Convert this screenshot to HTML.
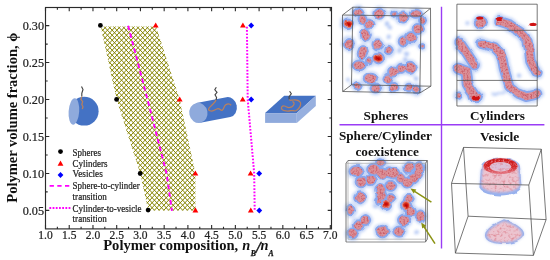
<!DOCTYPE html>
<html><head><meta charset="utf-8"><style>
html,body{margin:0;padding:0;background:#fff;width:550px;height:260px;overflow:hidden}
svg{display:block}
</style></head><body>
<svg width="550" height="260" viewBox="0 0 550 260">
<clipPath id="hc"><polygon points="100.7,26.6 156.1,26.6 179.7,99.4 195.4,173.5 195.4,210.4 148.2,210.4 140.2,173.5 116.6,99.4"/></clipPath>
<g clip-path="url(#hc)"><path d="M-376.84,0 L-151.24,240 M-371.76,0 L-597.36,240 M-372.14,0 L-146.54,240 M-367.06,0 L-592.66,240 M-367.44,0 L-141.84,240 M-362.36,0 L-587.96,240 M-362.74,0 L-137.14,240 M-357.66,0 L-583.26,240 M-358.04,0 L-132.44,240 M-352.96,0 L-578.56,240 M-353.34,0 L-127.74,240 M-348.26,0 L-573.86,240 M-348.64,0 L-123.04,240 M-343.56,0 L-569.16,240 M-343.94,0 L-118.34,240 M-338.86,0 L-564.46,240 M-339.24,0 L-113.64,240 M-334.16,0 L-559.76,240 M-334.54,0 L-108.94,240 M-329.46,0 L-555.06,240 M-329.84,0 L-104.24,240 M-324.76,0 L-550.36,240 M-325.14,0 L-99.54,240 M-320.06,0 L-545.66,240 M-320.44,0 L-94.84,240 M-315.36,0 L-540.96,240 M-315.74,0 L-90.14,240 M-310.66,0 L-536.26,240 M-311.04,0 L-85.44,240 M-305.96,0 L-531.56,240 M-306.34,0 L-80.74,240 M-301.26,0 L-526.86,240 M-301.64,0 L-76.04,240 M-296.56,0 L-522.16,240 M-296.94,0 L-71.34,240 M-291.86,0 L-517.46,240 M-292.24,0 L-66.64,240 M-287.16,0 L-512.76,240 M-287.54,0 L-61.94,240 M-282.46,0 L-508.06,240 M-282.84,0 L-57.24,240 M-277.76,0 L-503.36,240 M-278.14,0 L-52.54,240 M-273.06,0 L-498.66,240 M-273.44,0 L-47.84,240 M-268.36,0 L-493.96,240 M-268.74,0 L-43.14,240 M-263.66,0 L-489.26,240 M-264.04,0 L-38.44,240 M-258.96,0 L-484.56,240 M-259.34,0 L-33.74,240 M-254.26,0 L-479.86,240 M-254.64,0 L-29.04,240 M-249.56,0 L-475.16,240 M-249.94,0 L-24.34,240 M-244.86,0 L-470.46,240 M-245.24,0 L-19.64,240 M-240.16,0 L-465.76,240 M-240.54,0 L-14.94,240 M-235.46,0 L-461.06,240 M-235.84,0 L-10.24,240 M-230.76,0 L-456.36,240 M-231.14,0 L-5.54,240 M-226.06,0 L-451.66,240 M-226.44,0 L-0.84,240 M-221.36,0 L-446.96,240 M-221.74,0 L3.86,240 M-216.66,0 L-442.26,240 M-217.04,0 L8.56,240 M-211.96,0 L-437.56,240 M-212.34,0 L13.26,240 M-207.26,0 L-432.86,240 M-207.64,0 L17.96,240 M-202.56,0 L-428.16,240 M-202.94,0 L22.66,240 M-197.86,0 L-423.46,240 M-198.24,0 L27.36,240 M-193.16,0 L-418.76,240 M-193.54,0 L32.06,240 M-188.46,0 L-414.06,240 M-188.84,0 L36.76,240 M-183.76,0 L-409.36,240 M-184.14,0 L41.46,240 M-179.06,0 L-404.66,240 M-179.44,0 L46.16,240 M-174.36,0 L-399.96,240 M-174.74,0 L50.86,240 M-169.66,0 L-395.26,240 M-170.04,0 L55.56,240 M-164.96,0 L-390.56,240 M-165.34,0 L60.26,240 M-160.26,0 L-385.86,240 M-160.64,0 L64.96,240 M-155.56,0 L-381.16,240 M-155.94,0 L69.66,240 M-150.86,0 L-376.46,240 M-151.24,0 L74.36,240 M-146.16,0 L-371.76,240 M-146.54,0 L79.06,240 M-141.46,0 L-367.06,240 M-141.84,0 L83.76,240 M-136.76,0 L-362.36,240 M-137.14,0 L88.46,240 M-132.06,0 L-357.66,240 M-132.44,0 L93.16,240 M-127.36,0 L-352.96,240 M-127.74,0 L97.86,240 M-122.66,0 L-348.26,240 M-123.04,0 L102.56,240 M-117.96,0 L-343.56,240 M-118.34,0 L107.26,240 M-113.26,0 L-338.86,240 M-113.64,0 L111.96,240 M-108.56,0 L-334.16,240 M-108.94,0 L116.66,240 M-103.86,0 L-329.46,240 M-104.24,0 L121.36,240 M-99.16,0 L-324.76,240 M-99.54,0 L126.06,240 M-94.46,0 L-320.06,240 M-94.84,0 L130.76,240 M-89.76,0 L-315.36,240 M-90.14,0 L135.46,240 M-85.06,0 L-310.66,240 M-85.44,0 L140.16,240 M-80.36,0 L-305.96,240 M-80.74,0 L144.86,240 M-75.66,0 L-301.26,240 M-76.04,0 L149.56,240 M-70.96,0 L-296.56,240 M-71.34,0 L154.26,240 M-66.26,0 L-291.86,240 M-66.64,0 L158.96,240 M-61.56,0 L-287.16,240 M-61.94,0 L163.66,240 M-56.86,0 L-282.46,240 M-57.24,0 L168.36,240 M-52.16,0 L-277.76,240 M-52.54,0 L173.06,240 M-47.46,0 L-273.06,240 M-47.84,0 L177.76,240 M-42.76,0 L-268.36,240 M-43.14,0 L182.46,240 M-38.06,0 L-263.66,240 M-38.44,0 L187.16,240 M-33.36,0 L-258.96,240 M-33.74,0 L191.86,240 M-28.66,0 L-254.26,240 M-29.04,0 L196.56,240 M-23.96,0 L-249.56,240 M-24.34,0 L201.26,240 M-19.26,0 L-244.86,240 M-19.64,0 L205.96,240 M-14.56,0 L-240.16,240 M-14.94,0 L210.66,240 M-9.86,0 L-235.46,240 M-10.24,0 L215.36,240 M-5.16,0 L-230.76,240 M-5.54,0 L220.06,240 M-0.46,0 L-226.06,240 M-0.84,0 L224.76,240 M4.24,0 L-221.36,240 M3.86,0 L229.46,240 M8.94,0 L-216.66,240 M8.56,0 L234.16,240 M13.64,0 L-211.96,240 M13.26,0 L238.86,240 M18.34,0 L-207.26,240 M17.96,0 L243.56,240 M23.04,0 L-202.56,240 M22.66,0 L248.26,240 M27.74,0 L-197.86,240 M27.36,0 L252.96,240 M32.44,0 L-193.16,240 M32.06,0 L257.66,240 M37.14,0 L-188.46,240 M36.76,0 L262.36,240 M41.84,0 L-183.76,240 M41.46,0 L267.06,240 M46.54,0 L-179.06,240 M46.16,0 L271.76,240 M51.24,0 L-174.36,240 M50.86,0 L276.46,240 M55.94,0 L-169.66,240 M55.56,0 L281.16,240 M60.64,0 L-164.96,240 M60.26,0 L285.86,240 M65.34,0 L-160.26,240 M64.96,0 L290.56,240 M70.04,0 L-155.56,240 M69.66,0 L295.26,240 M74.74,0 L-150.86,240 M74.36,0 L299.96,240 M79.44,0 L-146.16,240 M79.06,0 L304.66,240 M84.14,0 L-141.46,240 M83.76,0 L309.36,240 M88.84,0 L-136.76,240 M88.46,0 L314.06,240 M93.54,0 L-132.06,240 M93.16,0 L318.76,240 M98.24,0 L-127.36,240 M97.86,0 L323.46,240 M102.94,0 L-122.66,240 M102.56,0 L328.16,240 M107.64,0 L-117.96,240 M107.26,0 L332.86,240 M112.34,0 L-113.26,240 M111.96,0 L337.56,240 M117.04,0 L-108.56,240 M116.66,0 L342.26,240 M121.74,0 L-103.86,240 M121.36,0 L346.96,240 M126.44,0 L-99.16,240 M126.06,0 L351.66,240 M131.14,0 L-94.46,240 M130.76,0 L356.36,240 M135.84,0 L-89.76,240 M135.46,0 L361.06,240 M140.54,0 L-85.06,240 M140.16,0 L365.76,240 M145.24,0 L-80.36,240 M144.86,0 L370.46,240 M149.94,0 L-75.66,240 M149.56,0 L375.16,240 M154.64,0 L-70.96,240 M154.26,0 L379.86,240 M159.34,0 L-66.26,240 M158.96,0 L384.56,240 M164.04,0 L-61.56,240 M163.66,0 L389.26,240 M168.74,0 L-56.86,240 M168.36,0 L393.96,240 M173.44,0 L-52.16,240 M173.06,0 L398.66,240 M178.14,0 L-47.46,240 M177.76,0 L403.36,240 M182.84,0 L-42.76,240 M182.46,0 L408.06,240 M187.54,0 L-38.06,240 M187.16,0 L412.76,240 M192.24,0 L-33.36,240 M191.86,0 L417.46,240 M196.94,0 L-28.66,240 M196.56,0 L422.16,240 M201.64,0 L-23.96,240 M201.26,0 L426.86,240 M206.34,0 L-19.26,240 M205.96,0 L431.56,240 M211.04,0 L-14.56,240 M210.66,0 L436.26,240 M215.74,0 L-9.86,240 M215.36,0 L440.96,240 M220.44,0 L-5.16,240 M220.06,0 L445.66,240 M225.14,0 L-0.46,240 M224.76,0 L450.36,240 M229.84,0 L4.24,240 M229.46,0 L455.06,240 M234.54,0 L8.94,240 M234.16,0 L459.76,240 M239.24,0 L13.64,240 M238.86,0 L464.46,240 M243.94,0 L18.34,240 M243.56,0 L469.16,240 M248.64,0 L23.04,240 M248.26,0 L473.86,240 M253.34,0 L27.74,240 M252.96,0 L478.56,240 M258.04,0 L32.44,240 M257.66,0 L483.26,240 M262.74,0 L37.14,240 M262.36,0 L487.96,240 M267.44,0 L41.84,240 M267.06,0 L492.66,240 M272.14,0 L46.54,240 M271.76,0 L497.36,240 M276.84,0 L51.24,240 M276.46,0 L502.06,240 M281.54,0 L55.94,240 M281.16,0 L506.76,240 M286.24,0 L60.64,240 M285.86,0 L511.46,240 M290.94,0 L65.34,240 M290.56,0 L516.16,240 M295.64,0 L70.04,240 M295.26,0 L520.86,240 M300.34,0 L74.74,240 M299.96,0 L525.56,240 M305.04,0 L79.44,240 M304.66,0 L530.26,240 M309.74,0 L84.14,240 M309.36,0 L534.96,240 M314.44,0 L88.84,240 M314.06,0 L539.66,240 M319.14,0 L93.54,240 M318.76,0 L544.36,240 M323.84,0 L98.24,240 M323.46,0 L549.06,240 M328.54,0 L102.94,240 M328.16,0 L553.76,240 M333.24,0 L107.64,240 M332.86,0 L558.46,240 M337.94,0 L112.34,240 M337.56,0 L563.16,240 M342.64,0 L117.04,240 M342.26,0 L567.86,240 M347.34,0 L121.74,240 M346.96,0 L572.56,240 M352.04,0 L126.44,240 M351.66,0 L577.26,240 M356.74,0 L131.14,240 M356.36,0 L581.96,240 M361.44,0 L135.84,240 M361.06,0 L586.66,240 M366.14,0 L140.54,240 M365.76,0 L591.36,240 M370.84,0 L145.24,240 M370.46,0 L596.06,240 M375.54,0 L149.94,240 M375.16,0 L600.76,240 M380.24,0 L154.64,240 M379.86,0 L605.46,240 M384.94,0 L159.34,240 M384.56,0 L610.16,240 M389.64,0 L164.04,240 M389.26,0 L614.86,240 M394.34,0 L168.74,240 M393.96,0 L619.56,240 M399.04,0 L173.44,240 M398.66,0 L624.26,240 M403.74,0 L178.14,240 M403.36,0 L628.96,240 M408.44,0 L182.84,240 M408.06,0 L633.66,240 M413.14,0 L187.54,240 M412.76,0 L638.36,240 M417.84,0 L192.24,240 M417.46,0 L643.06,240 M422.54,0 L196.94,240 M422.16,0 L647.76,240 M427.24,0 L201.64,240 M426.86,0 L652.46,240 M431.94,0 L206.34,240 M431.56,0 L657.16,240 M436.64,0 L211.04,240 M436.26,0 L661.86,240 M441.34,0 L215.74,240 M440.96,0 L666.56,240 M446.04,0 L220.44,240 M445.66,0 L671.26,240 M450.74,0 L225.14,240 M450.36,0 L675.96,240 M455.44,0 L229.84,240 M455.06,0 L680.66,240 M460.14,0 L234.54,240 M459.76,0 L685.36,240 M464.84,0 L239.24,240 M464.46,0 L690.06,240 M469.54,0 L243.94,240 M469.16,0 L694.76,240 M474.24,0 L248.64,240 M473.86,0 L699.46,240 M478.94,0 L253.34,240 M478.56,0 L704.16,240 M483.64,0 L258.04,240 M483.26,0 L708.86,240 M488.34,0 L262.74,240 M487.96,0 L713.56,240 M493.04,0 L267.44,240 M492.66,0 L718.26,240 M497.74,0 L272.14,240 M497.36,0 L722.96,240 M502.44,0 L276.84,240 M502.06,0 L727.66,240 M507.14,0 L281.54,240 M506.76,0 L732.36,240 M511.84,0 L286.24,240 M511.46,0 L737.06,240 M516.54,0 L290.94,240 M516.16,0 L741.76,240 M521.24,0 L295.64,240 M520.86,0 L746.46,240 M525.94,0 L300.34,240 M525.56,0 L751.16,240 M530.64,0 L305.04,240 M530.26,0 L755.86,240 M535.34,0 L309.74,240 M534.96,0 L760.56,240 M540.04,0 L314.44,240 M539.66,0 L765.26,240 M544.74,0 L319.14,240 M544.36,0 L769.96,240 M549.44,0 L323.84,240 M549.06,0 L774.66,240 M554.14,0 L328.54,240 M553.76,0 L779.36,240 M558.84,0 L333.24,240 M558.46,0 L784.06,240 M563.54,0 L337.94,240" stroke="#858300" stroke-width="1.0" fill="none"/></g>
<polyline points="128.1,25.8 147.5,99.4 166.6,173.5 171.9,210.8" fill="none" stroke="#ff00ff" stroke-width="1.9" stroke-dasharray="4.6 3.2"/>
<polyline points="246.9,26.8 247.7,99.4 254.2,173.5 254.7,211.0" fill="none" stroke="#ff00ff" stroke-width="2" stroke-dasharray="1.7 1.6"/>
<rect x="45.5" y="7.5" width="286.0" height="221.4" fill="none" stroke="#2a2a2a" stroke-width="1.15"/>
<path d="M45.50,228.90 v-3.8 M45.50,7.50 v3.8 M57.37,228.90 v-2.2 M57.37,7.50 v2.2 M69.23,228.90 v-3.8 M69.23,7.50 v3.8 M81.10,228.90 v-2.2 M81.10,7.50 v2.2 M92.97,228.90 v-3.8 M92.97,7.50 v3.8 M104.83,228.90 v-2.2 M104.83,7.50 v2.2 M116.70,228.90 v-3.8 M116.70,7.50 v3.8 M128.57,228.90 v-2.2 M128.57,7.50 v2.2 M140.43,228.90 v-3.8 M140.43,7.50 v3.8 M152.30,228.90 v-2.2 M152.30,7.50 v2.2 M164.17,228.90 v-3.8 M164.17,7.50 v3.8 M176.03,228.90 v-2.2 M176.03,7.50 v2.2 M187.90,228.90 v-3.8 M187.90,7.50 v3.8 M199.77,228.90 v-2.2 M199.77,7.50 v2.2 M211.63,228.90 v-3.8 M211.63,7.50 v3.8 M223.50,228.90 v-2.2 M223.50,7.50 v2.2 M235.37,228.90 v-3.8 M235.37,7.50 v3.8 M247.23,228.90 v-2.2 M247.23,7.50 v2.2 M259.10,228.90 v-3.8 M259.10,7.50 v3.8 M270.97,228.90 v-2.2 M270.97,7.50 v2.2 M282.83,228.90 v-3.8 M282.83,7.50 v3.8 M294.70,228.90 v-2.2 M294.70,7.50 v2.2 M306.57,228.90 v-3.8 M306.57,7.50 v3.8 M318.43,228.90 v-2.2 M318.43,7.50 v2.2 M330.30,228.90 v-3.8 M330.30,7.50 v3.8 M45.50,210.40 h3.8 M331.50,210.40 h-3.8 M45.50,191.92 h2.2 M331.50,191.92 h-2.2 M45.50,173.44 h3.8 M331.50,173.44 h-3.8 M45.50,154.96 h2.2 M331.50,154.96 h-2.2 M45.50,136.48 h3.8 M331.50,136.48 h-3.8 M45.50,118.00 h2.2 M331.50,118.00 h-2.2 M45.50,99.52 h3.8 M331.50,99.52 h-3.8 M45.50,81.04 h2.2 M331.50,81.04 h-2.2 M45.50,62.56 h3.8 M331.50,62.56 h-3.8 M45.50,44.08 h2.2 M331.50,44.08 h-2.2 M45.50,25.60 h3.8 M331.50,25.60 h-3.8" stroke="#2a2a2a" stroke-width="1.1" fill="none"/>
<text x="45.50" y="238.80" font-size="11.5" stroke="#222" stroke-width="0.22" text-anchor="middle" fill="#222" style="font-family:'Liberation Serif','Times New Roman',serif">1.0</text>
<text x="69.23" y="238.80" font-size="11.5" stroke="#222" stroke-width="0.22" text-anchor="middle" fill="#222" style="font-family:'Liberation Serif','Times New Roman',serif">1.5</text>
<text x="92.97" y="238.80" font-size="11.5" stroke="#222" stroke-width="0.22" text-anchor="middle" fill="#222" style="font-family:'Liberation Serif','Times New Roman',serif">2.0</text>
<text x="116.70" y="238.80" font-size="11.5" stroke="#222" stroke-width="0.22" text-anchor="middle" fill="#222" style="font-family:'Liberation Serif','Times New Roman',serif">2.5</text>
<text x="140.43" y="238.80" font-size="11.5" stroke="#222" stroke-width="0.22" text-anchor="middle" fill="#222" style="font-family:'Liberation Serif','Times New Roman',serif">3.0</text>
<text x="164.17" y="238.80" font-size="11.5" stroke="#222" stroke-width="0.22" text-anchor="middle" fill="#222" style="font-family:'Liberation Serif','Times New Roman',serif">3.5</text>
<text x="187.90" y="238.80" font-size="11.5" stroke="#222" stroke-width="0.22" text-anchor="middle" fill="#222" style="font-family:'Liberation Serif','Times New Roman',serif">4.0</text>
<text x="211.63" y="238.80" font-size="11.5" stroke="#222" stroke-width="0.22" text-anchor="middle" fill="#222" style="font-family:'Liberation Serif','Times New Roman',serif">4.5</text>
<text x="235.37" y="238.80" font-size="11.5" stroke="#222" stroke-width="0.22" text-anchor="middle" fill="#222" style="font-family:'Liberation Serif','Times New Roman',serif">5.0</text>
<text x="259.10" y="238.80" font-size="11.5" stroke="#222" stroke-width="0.22" text-anchor="middle" fill="#222" style="font-family:'Liberation Serif','Times New Roman',serif">5.5</text>
<text x="282.83" y="238.80" font-size="11.5" stroke="#222" stroke-width="0.22" text-anchor="middle" fill="#222" style="font-family:'Liberation Serif','Times New Roman',serif">6.0</text>
<text x="306.57" y="238.80" font-size="11.5" stroke="#222" stroke-width="0.22" text-anchor="middle" fill="#222" style="font-family:'Liberation Serif','Times New Roman',serif">6.5</text>
<text x="330.30" y="238.80" font-size="11.5" stroke="#222" stroke-width="0.22" text-anchor="middle" fill="#222" style="font-family:'Liberation Serif','Times New Roman',serif">7.0</text>
<text x="44.00" y="214.65" font-size="12.2" stroke="#222" stroke-width="0.22" text-anchor="end" fill="#222" style="font-family:'Liberation Serif','Times New Roman',serif">0.05</text>
<text x="44.00" y="177.69" font-size="12.2" stroke="#222" stroke-width="0.22" text-anchor="end" fill="#222" style="font-family:'Liberation Serif','Times New Roman',serif">0.10</text>
<text x="44.00" y="140.73" font-size="12.2" stroke="#222" stroke-width="0.22" text-anchor="end" fill="#222" style="font-family:'Liberation Serif','Times New Roman',serif">0.15</text>
<text x="44.00" y="103.77" font-size="12.2" stroke="#222" stroke-width="0.22" text-anchor="end" fill="#222" style="font-family:'Liberation Serif','Times New Roman',serif">0.20</text>
<text x="44.00" y="66.81" font-size="12.2" stroke="#222" stroke-width="0.22" text-anchor="end" fill="#222" style="font-family:'Liberation Serif','Times New Roman',serif">0.25</text>
<text x="44.00" y="29.85" font-size="12.2" stroke="#222" stroke-width="0.22" text-anchor="end" fill="#222" style="font-family:'Liberation Serif','Times New Roman',serif">0.30</text>
<text x="103.20" y="250.30" font-size="14.4" font-weight="bold" textLength="135.00" lengthAdjust="spacingAndGlyphs" fill="#111" style="font-family:'Liberation Serif','Times New Roman',serif">Polymer composition,</text>
<text x="242.2" y="250.3" font-size="14.4" font-weight="bold" font-style="italic" fill="#111" style="font-family:'Liberation Serif','Times New Roman',serif">n</text>
<text x="250.8" y="256.2" font-size="7.7" font-weight="bold" font-style="italic" fill="#111" stroke="#111" stroke-width="0.25" style="font-family:'Liberation Serif','Times New Roman',serif">B</text>
<text x="256.0" y="252.8" font-size="16.5" font-weight="bold" font-style="italic" fill="#111" stroke="#111" stroke-width="0.35" style="font-family:'Liberation Serif','Times New Roman',serif">/</text>
<text x="260.6" y="250.3" font-size="14.4" font-weight="bold" font-style="italic" fill="#111" style="font-family:'Liberation Serif','Times New Roman',serif">n</text>
<text x="268.4" y="256.2" font-size="7.7" font-weight="bold" font-style="italic" fill="#111" stroke="#111" stroke-width="0.25" style="font-family:'Liberation Serif','Times New Roman',serif">A</text>
<g transform="translate(16.6,202.7) rotate(-90)"><text x="0.00" y="0.00" font-size="14.5" font-weight="bold" textLength="170.00" lengthAdjust="spacingAndGlyphs" fill="#111" style="font-family:'Liberation Serif','Times New Roman',serif">Polymer volume fraction, &#981;</text></g>
<circle cx="100.4" cy="25.4" r="2.4" fill="#000"/>
<circle cx="116.6" cy="99.4" r="2.4" fill="#000"/>
<circle cx="140.2" cy="173.5" r="2.4" fill="#000"/>
<circle cx="148.1" cy="210.1" r="2.4" fill="#000"/>
<polygon points="155.7,22.4 152.8,27.5 158.6,27.5" fill="#ff0000"/>
<polygon points="179.7,96.4 176.8,101.5 182.6,101.5" fill="#ff0000"/>
<polygon points="195.4,170.5 192.5,175.6 198.3,175.6" fill="#ff0000"/>
<polygon points="195.4,207.3 192.5,212.4 198.3,212.4" fill="#ff0000"/>
<polygon points="242.9,22.4 240.0,27.5 245.8,27.5" fill="#ff0000"/>
<polygon points="242.7,96.4 239.8,101.5 245.6,101.5" fill="#ff0000"/>
<polygon points="250.6,170.5 247.7,175.6 253.5,175.6" fill="#ff0000"/>
<polygon points="250.8,207.4 247.9,212.5 253.7,212.5" fill="#ff0000"/>
<polygon points="251.2,22.4 254.1,25.4 251.2,28.4 248.3,25.4" fill="#0000ff"/>
<polygon points="251.2,96.4 254.1,99.4 251.2,102.4 248.3,99.4" fill="#0000ff"/>
<polygon points="259.2,170.5 262.1,173.5 259.2,176.5 256.3,173.5" fill="#0000ff"/>
<polygon points="259.3,207.4 262.2,210.4 259.3,213.4 256.4,210.4" fill="#0000ff"/>
<circle cx="60.5" cy="151.6" r="2.4" fill="#000"/>
<polygon points="60.5,160.6 57.6,165.7 63.4,165.7" fill="#ff0000"/>
<polygon points="60.5,172.1 63.4,175.1 60.5,178.1 57.6,175.1" fill="#0000ff"/>
<line x1="49.6" y1="185.9" x2="69.4" y2="185.9" stroke="#ff00ff" stroke-width="1.9" stroke-dasharray="4.3 3.4"/>
<line x1="49.4" y1="207.9" x2="71.4" y2="207.9" stroke="#ff00ff" stroke-width="2" stroke-dasharray="1.8 1.4"/>
<text x="72.60" y="155.80" font-size="9.8" stroke="#222" stroke-width="0.22" textLength="28.30" lengthAdjust="spacingAndGlyphs" fill="#222" style="font-family:'Liberation Serif','Times New Roman',serif">Spheres</text>
<text x="72.60" y="166.50" font-size="9.8" stroke="#222" stroke-width="0.22" textLength="34.90" lengthAdjust="spacingAndGlyphs" fill="#222" style="font-family:'Liberation Serif','Times New Roman',serif">Cylinders</text>
<text x="72.60" y="177.30" font-size="9.8" stroke="#222" stroke-width="0.22" textLength="30.20" lengthAdjust="spacingAndGlyphs" fill="#222" style="font-family:'Liberation Serif','Times New Roman',serif">Vesicles</text>
<text x="72.60" y="189.20" font-size="9.8" stroke="#222" stroke-width="0.22" textLength="67.20" lengthAdjust="spacingAndGlyphs" fill="#222" style="font-family:'Liberation Serif','Times New Roman',serif">Sphere-to-cylinder</text>
<text x="72.60" y="199.80" font-size="9.8" stroke="#222" stroke-width="0.22" textLength="34.30" lengthAdjust="spacingAndGlyphs" fill="#222" style="font-family:'Liberation Serif','Times New Roman',serif">transition</text>
<text x="72.60" y="212.00" font-size="9.8" stroke="#222" stroke-width="0.22" textLength="69.00" lengthAdjust="spacingAndGlyphs" fill="#222" style="font-family:'Liberation Serif','Times New Roman',serif">Cylinder-to-vesicle</text>
<text x="72.60" y="222.40" font-size="9.8" stroke="#222" stroke-width="0.22" textLength="34.30" lengthAdjust="spacingAndGlyphs" fill="#222" style="font-family:'Liberation Serif','Times New Roman',serif">transition</text>
<ellipse cx="84.2" cy="111.2" rx="14.4" ry="14.4" fill="#4472c4"/>
<ellipse cx="73.9" cy="111.5" rx="5.3" ry="13.2" transform="rotate(4 73.9 111.5)" fill="#8faadc"/>
<polyline points="81.5,86.6 83,89.5 81.8,93.3 81.8,96.6" fill="none" stroke="#454545" stroke-width="1.15"/>
<polyline points="81.8,96.6 80.9,99.3 82.7,101.6 81.8,104.5 83,106.8 82.3,109.1" fill="none" stroke="#b8805e" stroke-width="1.25"/>
<g transform="translate(198.4,112.9) rotate(-11)"><path d="M0,-10.1 L30.5,-10.1 A8.5,10.1 0 0 1 30.5,10.1 L0,10.1 Z" fill="#4472c4"/><ellipse cx="0" cy="0" rx="9.1" ry="10.1" fill="#8faadc"/></g>
<polyline points="216.3,87.3 214.8,89.8 217,92.3 215,94.8 216.6,97.5 216,100" fill="none" stroke="#454545" stroke-width="1.15"/>
<path d="M216,100 C215.5,102 214,103 211,106 C208,108.5 207.5,110.5 211,111 C214,111.5 215.5,109 218,108.6 C220,108.3 220.5,110.8 222.3,110.2 C224,109 223.5,106.5 226,104.6 C228,103.4 230,104 231.2,105.2" fill="none" stroke="#b8805e" stroke-width="1.25"/>
<polygon points="284.2,95.8 315.8,95.8 296.8,113.1 265.1,113.1" fill="#4472c4"/>
<polygon points="265.1,113.1 296.8,113.1 296.8,122.9 265.1,122.9" fill="#8faadc"/>
<polygon points="296.8,113.1 315.8,95.8 315.8,106 296.8,122.9" fill="#97b0df"/>
<polyline points="289.6,91.2 291.3,93.8 289,97 289.2,99.5" fill="none" stroke="#454545" stroke-width="1.15"/>
<path d="M289.2,99.5 C290,101 291,100 293,100 C296,99.8 299.5,100.5 300.6,103 C301,106 299,108.5 296.5,110.5 C294.5,111.5 292.5,110.2 290.5,110.6 C288,111.6 284,111 282,109.4 C280.5,107.6 282,105.5 284.5,106 C286.5,106.6 287.5,108 290,107.4 C292.5,106.8 294.5,105 294,103 C293.5,101.5 292.8,102 292.5,101.5" fill="none" stroke="#b8805e" stroke-width="1.25"/>
<defs><filter id="fg" x="-40%" y="-40%" width="180%" height="180%" color-interpolation-filters="sRGB"><feTurbulence type="fractalNoise" baseFrequency="0.11" numOctaves="1" seed="2" result="d"/><feDisplacementMap in="SourceGraphic" in2="d" scale="3.6" xChannelSelector="R" yChannelSelector="G" result="sd"/><feGaussianBlur in="sd" stdDeviation="1.5"/></filter><filter id="fh" x="-30%" y="-30%" width="160%" height="160%" color-interpolation-filters="sRGB"><feTurbulence type="fractalNoise" baseFrequency="0.11" numOctaves="1" seed="2" result="d"/><feDisplacementMap in="SourceGraphic" in2="d" scale="3.6" xChannelSelector="R" yChannelSelector="G" result="sd"/><feGaussianBlur in="sd" stdDeviation="0.75"/></filter><filter id="fp" x="-30%" y="-30%" width="160%" height="160%" color-interpolation-filters="sRGB"><feTurbulence type="fractalNoise" baseFrequency="0.11" numOctaves="1" seed="2" result="d"/><feDisplacementMap in="SourceGraphic" in2="d" scale="3.6" xChannelSelector="R" yChannelSelector="G" result="sd"/><feGaussianBlur in="sd" stdDeviation="0.6" result="b"/><feTurbulence type="fractalNoise" baseFrequency="0.55" numOctaves="2" seed="4" result="n"/><feColorMatrix in="n" type="matrix" values="0 0 0 0 0.78  0 0 0 0 0.33  0 0 0 0 0.38  2.6 0 0 0 -1.15" result="sp"/><feComposite in="sp" in2="b" operator="in" result="s2"/><feMerge><feMergeNode in="b"/><feMergeNode in="s2"/></feMerge></filter><filter id="fr" x="-50%" y="-50%" width="200%" height="200%" color-interpolation-filters="sRGB"><feTurbulence type="fractalNoise" baseFrequency="0.11" numOctaves="1" seed="2" result="d"/><feDisplacementMap in="SourceGraphic" in2="d" scale="3.6" xChannelSelector="R" yChannelSelector="G" result="sd"/><feGaussianBlur in="sd" stdDeviation="0.45"/></filter><filter id="fv" x="-30%" y="-30%" width="160%" height="160%" color-interpolation-filters="sRGB"><feGaussianBlur in="SourceGraphic" stdDeviation="0.8" result="b"/><feTurbulence type="fractalNoise" baseFrequency="0.35" numOctaves="2" seed="11" result="n"/><feColorMatrix in="n" type="matrix" values="0 0 0 0 0.85  0 0 0 0 0.45  0 0 0 0 0.5  1.8 0 0 0 -0.85" result="sp"/><feComposite in="sp" in2="b" operator="in" result="s2"/><feMerge><feMergeNode in="b"/><feMergeNode in="s2"/></feMerge></filter><filter id="fr2" x="-20%" y="-40%" width="140%" height="180%" color-interpolation-filters="sRGB"><feGaussianBlur in="SourceGraphic" stdDeviation="0.5" result="b"/><feTurbulence type="fractalNoise" baseFrequency="0.6" numOctaves="2" seed="7" result="n"/><feColorMatrix in="n" type="matrix" values="0 0 0 0 0.93  0 0 0 0 0.55  0 0 0 0 0.6  2.4 0 0 0 -1.05" result="sp"/><feComposite in="sp" in2="b" operator="in" result="s2"/><feMerge><feMergeNode in="b"/><feMergeNode in="s2"/></feMerge></filter><radialGradient id="rg"><stop offset="0" stop-color="#b00000"/><stop offset="0.45" stop-color="#cf1410"/><stop offset="0.8" stop-color="#dc4a30"/><stop offset="1" stop-color="#e2806c" stop-opacity="0.6"/></radialGradient><linearGradient id="lgr" x1="0" y1="0" x2="0" y2="1"><stop offset="0" stop-color="#c80e0e"/><stop offset="0.5" stop-color="#d21c1c"/><stop offset="1" stop-color="#e07480"/></linearGradient></defs>
<g filter="url(#fg)" fill="#c2d3f6" stroke="#c2d3f6" stroke-linecap="round" stroke-linejoin="round"><ellipse cx="347.9" cy="23.3" rx="7.2" ry="6.8"/><ellipse cx="358.3" cy="12.7" rx="7.1" ry="6.1"/><ellipse cx="362.1" cy="19.4" rx="6.6" ry="6.6"/><ellipse cx="368.8" cy="24.2" rx="6.6" ry="6.6"/><ellipse cx="379.4" cy="13.7" rx="7.1" ry="7.1"/><ellipse cx="365.8" cy="35.0" rx="6.9" ry="7.6"/><ellipse cx="348.7" cy="43.5" rx="7.1" ry="7.6"/><ellipse cx="377.5" cy="44.4" rx="7.1" ry="7.1"/><ellipse cx="363.1" cy="51.2" rx="6.6" ry="7.1"/><ellipse cx="388.4" cy="50.0" rx="6.2" ry="6.2"/><ellipse cx="403.3" cy="17.5" rx="7.1" ry="7.1"/><ellipse cx="394.6" cy="13.7" rx="5.6" ry="5.2"/><ellipse cx="415.8" cy="13.7" rx="8.1" ry="6.1"/><ellipse cx="422.5" cy="20.4" rx="5.4" ry="6.4"/><ellipse cx="417.7" cy="29.0" rx="7.1" ry="7.1"/><ellipse cx="411.0" cy="37.7" rx="7.6" ry="7.6"/><ellipse cx="403.3" cy="41.5" rx="6.6" ry="7.1"/><ellipse cx="362.1" cy="53.8" rx="6.4" ry="7.4"/><ellipse cx="378.5" cy="58.0" rx="7.4" ry="7.4"/><ellipse cx="359.2" cy="65.4" rx="8.6" ry="6.9"/><ellipse cx="368.8" cy="61.5" rx="5.2" ry="5.2"/><ellipse cx="370.8" cy="78.8" rx="9.1" ry="7.1"/><ellipse cx="357.3" cy="85.6" rx="6.1" ry="5.6"/><ellipse cx="375.6" cy="88.5" rx="7.1" ry="6.1"/><ellipse cx="410.0" cy="67.3" rx="7.6" ry="7.6"/><ellipse cx="401.3" cy="68.3" rx="6.6" ry="6.6"/><ellipse cx="393.7" cy="72.1" rx="7.6" ry="6.6"/><ellipse cx="387.9" cy="78.8" rx="6.6" ry="7.1"/><ellipse cx="393.7" cy="87.5" rx="7.1" ry="6.6"/><ellipse cx="409.0" cy="87.5" rx="6.1" ry="5.8"/><ellipse cx="415.8" cy="89.4" rx="6.1" ry="5.8"/><ellipse cx="387.0" cy="24.2" rx="1.8" ry="1.8" fill="#9fb8f2"/><ellipse cx="389.8" cy="27.5" rx="1.8" ry="1.8" fill="#9fb8f2"/><ellipse cx="388.8" cy="36.7" rx="1.8" ry="1.8" fill="#9fb8f2"/><ellipse cx="399.4" cy="51.2" rx="1.8" ry="1.8" fill="#9fb8f2"/><ellipse cx="405.2" cy="58.7" rx="2.0" ry="2.0" fill="#9fb8f2"/><ellipse cx="415.8" cy="78.8" rx="2.2" ry="2.2" fill="#9fb8f2"/><ellipse cx="348.7" cy="79.8" rx="1.8" ry="1.8" fill="#9fb8f2"/><ellipse cx="407.0" cy="53.8" rx="1.8" ry="1.8" fill="#9fb8f2"/><ellipse cx="421.5" cy="46.3" rx="4.3" ry="4.3"/></g><g filter="url(#fh)" fill="#87a6ed" stroke="#87a6ed" stroke-linecap="round" stroke-linejoin="round"><ellipse cx="347.9" cy="23.3" rx="5.6" ry="5.2"/><ellipse cx="358.3" cy="12.7" rx="5.5" ry="4.5"/><ellipse cx="362.1" cy="19.4" rx="5.0" ry="5.0"/><ellipse cx="368.8" cy="24.2" rx="5.0" ry="5.0"/><ellipse cx="379.4" cy="13.7" rx="5.5" ry="5.5"/><ellipse cx="365.8" cy="35.0" rx="5.3" ry="6.0"/><ellipse cx="348.7" cy="43.5" rx="5.5" ry="6.0"/><ellipse cx="377.5" cy="44.4" rx="5.5" ry="5.5"/><ellipse cx="363.1" cy="51.2" rx="5.0" ry="5.5"/><ellipse cx="388.4" cy="50.0" rx="4.6" ry="4.6"/><ellipse cx="403.3" cy="17.5" rx="5.5" ry="5.5"/><ellipse cx="394.6" cy="13.7" rx="4.0" ry="3.6"/><ellipse cx="415.8" cy="13.7" rx="6.5" ry="4.5"/><ellipse cx="422.5" cy="20.4" rx="3.8" ry="4.8"/><ellipse cx="417.7" cy="29.0" rx="5.5" ry="5.5"/><ellipse cx="411.0" cy="37.7" rx="6.0" ry="6.0"/><ellipse cx="403.3" cy="41.5" rx="5.0" ry="5.5"/><ellipse cx="362.1" cy="53.8" rx="4.8" ry="5.8"/><ellipse cx="378.5" cy="58.0" rx="5.8" ry="5.8"/><ellipse cx="359.2" cy="65.4" rx="7.0" ry="5.3"/><ellipse cx="368.8" cy="61.5" rx="3.6" ry="3.6"/><ellipse cx="370.8" cy="78.8" rx="7.5" ry="5.5"/><ellipse cx="357.3" cy="85.6" rx="4.5" ry="4.0"/><ellipse cx="375.6" cy="88.5" rx="5.5" ry="4.5"/><ellipse cx="410.0" cy="67.3" rx="6.0" ry="6.0"/><ellipse cx="401.3" cy="68.3" rx="5.0" ry="5.0"/><ellipse cx="393.7" cy="72.1" rx="6.0" ry="5.0"/><ellipse cx="387.9" cy="78.8" rx="5.0" ry="5.5"/><ellipse cx="393.7" cy="87.5" rx="5.5" ry="5.0"/><ellipse cx="409.0" cy="87.5" rx="4.5" ry="4.2"/><ellipse cx="415.8" cy="89.4" rx="4.5" ry="4.2"/><ellipse cx="421.5" cy="46.3" rx="2.7" ry="2.7"/></g><g filter="url(#fp)" fill="#db9098" stroke="#db9098" stroke-linecap="round" stroke-linejoin="round"><ellipse cx="347.9" cy="23.3" rx="3.8" ry="3.4"/><ellipse cx="358.3" cy="12.7" rx="3.7" ry="2.7"/><ellipse cx="362.1" cy="19.4" rx="3.2" ry="3.2"/><ellipse cx="368.8" cy="24.2" rx="3.2" ry="3.2"/><ellipse cx="379.4" cy="13.7" rx="3.7" ry="3.7"/><ellipse cx="365.8" cy="35.0" rx="3.5" ry="4.2"/><ellipse cx="348.7" cy="43.5" rx="3.7" ry="4.2"/><ellipse cx="377.5" cy="44.4" rx="3.7" ry="3.7"/><ellipse cx="363.1" cy="51.2" rx="3.2" ry="3.7"/><ellipse cx="388.4" cy="50.0" rx="2.8" ry="2.8"/><ellipse cx="403.3" cy="17.5" rx="3.7" ry="3.7"/><ellipse cx="394.6" cy="13.7" rx="2.2" ry="1.8"/><ellipse cx="415.8" cy="13.7" rx="4.7" ry="2.7"/><ellipse cx="422.5" cy="20.4" rx="2.0" ry="3.0"/><ellipse cx="417.7" cy="29.0" rx="3.7" ry="3.7"/><ellipse cx="411.0" cy="37.7" rx="4.2" ry="4.2"/><ellipse cx="403.3" cy="41.5" rx="3.2" ry="3.7"/><ellipse cx="362.1" cy="53.8" rx="3.0" ry="4.0"/><ellipse cx="378.5" cy="58.0" rx="4.0" ry="4.0"/><ellipse cx="359.2" cy="65.4" rx="5.2" ry="3.5"/><ellipse cx="368.8" cy="61.5" rx="1.8" ry="1.8"/><ellipse cx="370.8" cy="78.8" rx="5.7" ry="3.7"/><ellipse cx="357.3" cy="85.6" rx="2.7" ry="2.2"/><ellipse cx="375.6" cy="88.5" rx="3.7" ry="2.7"/><ellipse cx="410.0" cy="67.3" rx="4.2" ry="4.2"/><ellipse cx="401.3" cy="68.3" rx="3.2" ry="3.2"/><ellipse cx="393.7" cy="72.1" rx="4.2" ry="3.2"/><ellipse cx="387.9" cy="78.8" rx="3.2" ry="3.7"/><ellipse cx="393.7" cy="87.5" rx="3.7" ry="3.2"/><ellipse cx="409.0" cy="87.5" rx="2.7" ry="2.4"/><ellipse cx="415.8" cy="89.4" rx="2.7" ry="2.4"/><ellipse cx="421.5" cy="46.3" rx="0.9" ry="0.9"/></g><g filter="url(#fr)" fill="#cf1212" stroke="none"><ellipse cx="347.9" cy="23.3" rx="3.6" ry="3.2" fill="url(#rg)"/><ellipse cx="378.5" cy="58.0" rx="3.8" ry="3.8" fill="url(#rg)"/></g>
<path d="M342.5,15.0 L421.0,16.1 L419.8,93.0 L342.7,91.5 Z M352.8,7.2 L430.5,8.3 L430.9,86.2 L351.5,84.8 Z M342.5,15.0 L352.8,7.2 M421.0,16.1 L430.5,8.3 M419.8,93.0 L430.9,86.2 M342.7,91.5 L351.5,84.8" stroke="#4a4a4a" stroke-width="0.75" fill="none"/>
<g filter="url(#fg)" fill="#c2d3f6" stroke="#c2d3f6" stroke-linecap="round" stroke-linejoin="round"><ellipse cx="480.8" cy="22.3" rx="8.1" ry="7.8"/><ellipse cx="467.4" cy="23.1" rx="1.6" ry="1.6" fill="#9fb8f2"/><ellipse cx="519.0" cy="75.6" rx="1.8" ry="1.8" fill="#9fb8f2"/><ellipse cx="458.7" cy="95.6" rx="5.0" ry="5.3"/><ellipse cx="475.6" cy="96.8" rx="8.2" ry="7.4"/><ellipse cx="496.0" cy="93.3" rx="4.5" ry="1.0" fill="#9fb8f2"/><ellipse cx="503.0" cy="93.0" rx="3.0" ry="0.9" fill="#9fb8f2"/><path fill="none" d="M499.7,21.2 L509.3,24.6 L520.8,32.7 L527.4,40.4 L529.3,50.0 L530.5,61.2 L534.0,68.0 L536.3,72.5" stroke-width="13.8"/><path fill="none" d="M481.5,43.5 L487.0,45.0 L494.3,47.2 L500.0,53.0 L502.5,60.0 L504.0,68.0 L506.4,76.5 L509.3,86.2 L517.0,92.9 L526.6,96.7 L534.3,94.8 L537.0,93.8" stroke-width="13.8"/><path fill="none" d="M459.7,42.6 L467.0,53.5 L474.5,65.0" stroke-width="13.8"/><path fill="none" d="M458.3,68.5 L466.0,71.5 L467.0,78.0 L467.5,84.0 L471.0,90.0 L475.0,95.5" stroke-width="14.8"/></g><g filter="url(#fh)" fill="#87a6ed" stroke="#87a6ed" stroke-linecap="round" stroke-linejoin="round"><ellipse cx="480.8" cy="22.3" rx="6.5" ry="6.2"/><ellipse cx="458.7" cy="95.6" rx="3.4" ry="3.7"/><ellipse cx="475.6" cy="96.8" rx="6.6" ry="5.8"/><path fill="none" d="M499.7,21.2 L509.3,24.6 L520.8,32.7 L527.4,40.4 L529.3,50.0 L530.5,61.2 L534.0,68.0 L536.3,72.5" stroke-width="10.6"/><path fill="none" d="M481.5,43.5 L487.0,45.0 L494.3,47.2 L500.0,53.0 L502.5,60.0 L504.0,68.0 L506.4,76.5 L509.3,86.2 L517.0,92.9 L526.6,96.7 L534.3,94.8 L537.0,93.8" stroke-width="10.6"/><path fill="none" d="M459.7,42.6 L467.0,53.5 L474.5,65.0" stroke-width="10.6"/><path fill="none" d="M458.3,68.5 L466.0,71.5 L467.0,78.0 L467.5,84.0 L471.0,90.0 L475.0,95.5" stroke-width="11.6"/></g><g filter="url(#fp)" fill="#db9098" stroke="#db9098" stroke-linecap="round" stroke-linejoin="round"><ellipse cx="480.8" cy="22.3" rx="4.7" ry="4.4"/><ellipse cx="458.7" cy="95.6" rx="1.6" ry="1.9"/><ellipse cx="475.6" cy="96.8" rx="4.8" ry="4.0"/><path fill="none" d="M499.7,21.2 L509.3,24.6 L520.8,32.7 L527.4,40.4 L529.3,50.0 L530.5,61.2 L534.0,68.0 L536.3,72.5" stroke-width="7.0"/><path fill="none" d="M481.5,43.5 L487.0,45.0 L494.3,47.2 L500.0,53.0 L502.5,60.0 L504.0,68.0 L506.4,76.5 L509.3,86.2 L517.0,92.9 L526.6,96.7 L534.3,94.8 L537.0,93.8" stroke-width="7.0"/><path fill="none" d="M459.7,42.6 L467.0,53.5 L474.5,65.0" stroke-width="7.0"/><path fill="none" d="M458.3,68.5 L466.0,71.5 L467.0,78.0 L467.5,84.0 L471.0,90.0 L475.0,95.5" stroke-width="8.0"/></g><g filter="url(#fr)" fill="#cf1212" stroke="none"><ellipse cx="479.8" cy="18.0" rx="3.6" ry="1.6"/><ellipse cx="499.6" cy="18.6" rx="3.8" ry="1.5"/><ellipse cx="532.5" cy="24.4" rx="4.2" ry="1.6"/><ellipse cx="475.4" cy="98.0" rx="3.4" ry="2.4"/></g>
<path d="M456.9,4.2 H537.2 V106.0 H456.9 Z M456.9,30.3 H537.2 M456.9,80.4 H537.2" stroke="#4a4a4a" stroke-width="0.75" fill="none"/>
<g filter="url(#fg)" fill="#c2d3f6" stroke="#c2d3f6" stroke-linecap="round" stroke-linejoin="round"><ellipse cx="356.4" cy="171.4" rx="9.1" ry="7.6"/><ellipse cx="373.7" cy="169.5" rx="8.6" ry="7.8"/><ellipse cx="381.4" cy="173.3" rx="7.6" ry="7.3"/><ellipse cx="380.5" cy="162.8" rx="6.8" ry="5.6"/><ellipse cx="389.1" cy="172.4" rx="7.1" ry="7.1"/><ellipse cx="361.2" cy="182.0" rx="7.6" ry="7.3"/><ellipse cx="370.8" cy="180.1" rx="7.1" ry="7.1"/><ellipse cx="380.5" cy="189.7" rx="7.3" ry="7.6"/><ellipse cx="381.4" cy="195.5" rx="7.1" ry="7.3"/><ellipse cx="360.3" cy="197.8" rx="8.1" ry="7.6"/><ellipse cx="386.1" cy="204.6" rx="7.4" ry="7.4"/><ellipse cx="408.9" cy="167.6" rx="7.6" ry="7.3"/><ellipse cx="419.5" cy="167.6" rx="7.1" ry="7.6"/><ellipse cx="393.5" cy="173.3" rx="8.1" ry="7.3"/><ellipse cx="401.2" cy="178.2" rx="7.1" ry="7.1"/><ellipse cx="407.0" cy="182.5" rx="7.3" ry="7.1"/><ellipse cx="413.7" cy="178.2" rx="7.1" ry="7.1"/><ellipse cx="418.0" cy="174.0" rx="6.4" ry="6.4"/><ellipse cx="390.7" cy="185.8" rx="7.6" ry="7.1"/><ellipse cx="390.7" cy="198.4" rx="6.6" ry="6.4"/><ellipse cx="406.1" cy="205.6" rx="7.2" ry="7.5"/><ellipse cx="410.8" cy="211.4" rx="7.1" ry="7.1"/><ellipse cx="408.9" cy="198.9" rx="6.6" ry="6.1"/><ellipse cx="350.7" cy="210.5" rx="6.1" ry="6.8"/><ellipse cx="365.1" cy="220.1" rx="7.1" ry="7.1"/><ellipse cx="358.3" cy="224.9" rx="7.6" ry="7.6"/><ellipse cx="352.6" cy="233.5" rx="7.1" ry="7.1"/><ellipse cx="382.4" cy="231.6" rx="8.1" ry="7.8"/><ellipse cx="404.1" cy="220.1" rx="8.1" ry="7.6"/><ellipse cx="420.5" cy="216.2" rx="6.8" ry="7.8"/><ellipse cx="399.3" cy="231.6" rx="8.1" ry="7.1"/><ellipse cx="378.5" cy="200.8" rx="5.6" ry="5.3"/><ellipse cx="374.7" cy="205.7" rx="1.8" ry="1.8" fill="#9fb8f2"/><ellipse cx="415.7" cy="231.6" rx="2.0" ry="2.0" fill="#9fb8f2"/></g><g filter="url(#fh)" fill="#87a6ed" stroke="#87a6ed" stroke-linecap="round" stroke-linejoin="round"><ellipse cx="356.4" cy="171.4" rx="7.5" ry="6.0"/><ellipse cx="373.7" cy="169.5" rx="7.0" ry="6.2"/><ellipse cx="381.4" cy="173.3" rx="6.0" ry="5.7"/><ellipse cx="380.5" cy="162.8" rx="5.2" ry="4.0"/><ellipse cx="389.1" cy="172.4" rx="5.5" ry="5.5"/><ellipse cx="361.2" cy="182.0" rx="6.0" ry="5.7"/><ellipse cx="370.8" cy="180.1" rx="5.5" ry="5.5"/><ellipse cx="380.5" cy="189.7" rx="5.7" ry="6.0"/><ellipse cx="381.4" cy="195.5" rx="5.5" ry="5.7"/><ellipse cx="360.3" cy="197.8" rx="6.5" ry="6.0"/><ellipse cx="386.1" cy="204.6" rx="5.8" ry="5.8"/><ellipse cx="408.9" cy="167.6" rx="6.0" ry="5.7"/><ellipse cx="419.5" cy="167.6" rx="5.5" ry="6.0"/><ellipse cx="393.5" cy="173.3" rx="6.5" ry="5.7"/><ellipse cx="401.2" cy="178.2" rx="5.5" ry="5.5"/><ellipse cx="407.0" cy="182.5" rx="5.7" ry="5.5"/><ellipse cx="413.7" cy="178.2" rx="5.5" ry="5.5"/><ellipse cx="418.0" cy="174.0" rx="4.8" ry="4.8"/><ellipse cx="390.7" cy="185.8" rx="6.0" ry="5.5"/><ellipse cx="390.7" cy="198.4" rx="5.0" ry="4.8"/><ellipse cx="406.1" cy="205.6" rx="5.6" ry="5.9"/><ellipse cx="410.8" cy="211.4" rx="5.5" ry="5.5"/><ellipse cx="408.9" cy="198.9" rx="5.0" ry="4.5"/><ellipse cx="350.7" cy="210.5" rx="4.5" ry="5.2"/><ellipse cx="365.1" cy="220.1" rx="5.5" ry="5.5"/><ellipse cx="358.3" cy="224.9" rx="6.0" ry="6.0"/><ellipse cx="352.6" cy="233.5" rx="5.5" ry="5.5"/><ellipse cx="382.4" cy="231.6" rx="6.5" ry="6.2"/><ellipse cx="404.1" cy="220.1" rx="6.5" ry="6.0"/><ellipse cx="420.5" cy="216.2" rx="5.2" ry="6.2"/><ellipse cx="399.3" cy="231.6" rx="6.5" ry="5.5"/><ellipse cx="378.5" cy="200.8" rx="4.0" ry="3.7"/></g><g filter="url(#fp)" fill="#db9098" stroke="#db9098" stroke-linecap="round" stroke-linejoin="round"><ellipse cx="356.4" cy="171.4" rx="5.7" ry="4.2"/><ellipse cx="373.7" cy="169.5" rx="5.2" ry="4.4"/><ellipse cx="381.4" cy="173.3" rx="4.2" ry="3.9"/><ellipse cx="380.5" cy="162.8" rx="3.4" ry="2.2"/><ellipse cx="389.1" cy="172.4" rx="3.7" ry="3.7"/><ellipse cx="361.2" cy="182.0" rx="4.2" ry="3.9"/><ellipse cx="370.8" cy="180.1" rx="3.7" ry="3.7"/><ellipse cx="380.5" cy="189.7" rx="3.9" ry="4.2"/><ellipse cx="381.4" cy="195.5" rx="3.7" ry="3.9"/><ellipse cx="360.3" cy="197.8" rx="4.7" ry="4.2"/><ellipse cx="386.1" cy="204.6" rx="4.0" ry="4.0"/><ellipse cx="408.9" cy="167.6" rx="4.2" ry="3.9"/><ellipse cx="419.5" cy="167.6" rx="3.7" ry="4.2"/><ellipse cx="393.5" cy="173.3" rx="4.7" ry="3.9"/><ellipse cx="401.2" cy="178.2" rx="3.7" ry="3.7"/><ellipse cx="407.0" cy="182.5" rx="3.9" ry="3.7"/><ellipse cx="413.7" cy="178.2" rx="3.7" ry="3.7"/><ellipse cx="418.0" cy="174.0" rx="3.0" ry="3.0"/><ellipse cx="390.7" cy="185.8" rx="4.2" ry="3.7"/><ellipse cx="390.7" cy="198.4" rx="3.2" ry="3.0"/><ellipse cx="406.1" cy="205.6" rx="3.8" ry="4.1"/><ellipse cx="410.8" cy="211.4" rx="3.7" ry="3.7"/><ellipse cx="408.9" cy="198.9" rx="3.2" ry="2.7"/><ellipse cx="350.7" cy="210.5" rx="2.7" ry="3.4"/><ellipse cx="365.1" cy="220.1" rx="3.7" ry="3.7"/><ellipse cx="358.3" cy="224.9" rx="4.2" ry="4.2"/><ellipse cx="352.6" cy="233.5" rx="3.7" ry="3.7"/><ellipse cx="382.4" cy="231.6" rx="4.7" ry="4.4"/><ellipse cx="404.1" cy="220.1" rx="4.7" ry="4.2"/><ellipse cx="420.5" cy="216.2" rx="3.4" ry="4.4"/><ellipse cx="399.3" cy="231.6" rx="4.7" ry="3.7"/><ellipse cx="378.5" cy="200.8" rx="2.2" ry="1.9"/></g><g filter="url(#fr)" fill="#cf1212" stroke="none"><ellipse cx="386.1" cy="204.6" rx="3.8" ry="3.8" fill="url(#rg)"/><ellipse cx="406.1" cy="205.6" rx="3.6" ry="3.9" fill="url(#rg)"/></g>
<path d="M348.0,160.5 H427.3 V239.2 M346.0,163.3 L348.0,160.5 M425.5,163.3 L427.3,160.5 M425.5,242.0 L427.3,239.2 M346.0,242.0 V163.3" stroke="#4a4a4a" stroke-width="0.75" fill="none"/>
<path d="M346.0,242.0 H425.5 V163.3" stroke="#666" stroke-width="0.75" fill="none"/>
<path d="M346.0,163.3 H425.5 M348.0,160.5 V239.2 H427.3" stroke="#9a9a9a" stroke-width="0.6" fill="none"/>
<line x1="431.4" y1="202.1" x2="414.6" y2="191.3" stroke="#8a9212" stroke-width="1.5"/><polygon points="410.4,188.6 416.3,189.6 413.7,193.6" fill="#8a9212"/>
<line x1="435.0" y1="243.6" x2="423.9" y2="226.7" stroke="#8a9212" stroke-width="1.5"/><polygon points="421.2,222.5 426.2,225.8 422.2,228.4" fill="#8a9212"/>
<g filter="url(#fg)" fill="#c8d6f7"><path d="M481.0,167 A20.5,10.5 0 0 1 520.0,167 L521.5,186 A22,11 0 0 1 479.5,186 Z"/><path d="M485.0,236 C484,229 496,223 504,219.2 C513,222 524,228 524.2,234 C523,241 513,244 504,244 C495,244 485.5,242 485.0,236 Z"/></g>
<g filter="url(#fh)" fill="#97b1ee"><path d="M481.0,167 A19.5,9.5 0 0 1 520.0,167 L521.5,186 A21,9.5 0 0 1 479.5,186 Z"/><path d="M485.0,236 C484,229 496,223 504,219.2 C513,222 524,228 524.2,234 C523,241 513,244 504,244 C495,244 485.5,242 485.0,236 Z"/></g>
<g filter="url(#fv)" fill="#ecc4cf"><path d="M482.8,167 A17.7,8.3 0 0 1 518.2,167 L519.6,185.5 A19.3,8 0 0 1 481.4,185.5 Z"/><path d="M487.0,235.5 C487,229.5 496,224.5 504,221.2 C512,223.5 521.5,229 522.0,234 C521,240 512,242.3 504,242.3 C496,242.3 487.5,241 487.0,235.5 Z"/></g>
<ellipse cx="500.5" cy="166.4" rx="11" ry="4.6" fill="#dcc0d8" filter="url(#fv)"/>
<path fill-rule="evenodd" d="M483.5,166.2 A17,8 0 1 0 517.5,166.2 A17,8 0 1 0 483.5,166.2 Z M489.8,166.8 A10.7,4.9 0 1 0 511.2,166.8 A10.7,4.9 0 1 0 489.8,166.8 Z" fill="url(#lgr)" fill-opacity="0.95" filter="url(#fr2)"/>
<path d="M463.5,147.4 L541.3,149.2 L528.8,185.0 L451.5,183.4 Z M468.1,216.2 L546.1,219.6 L533.4,255.4 L455.4,253.1 Z M463.5,147.4 L468.1,216.2 M541.3,149.2 L546.1,219.6 M528.8,185.0 L533.4,255.4 M451.5,183.4 L455.4,253.1" stroke="#4a4a4a" stroke-width="0.75" fill="none"/>
<path d="M441.5,6.7 V248.5 M339.5,124.8 H544.4" stroke="#9a3cf5" stroke-width="1.4" fill="none"/>
<text x="363.60" y="119.80" font-size="13.4" font-weight="bold" textLength="44.60" lengthAdjust="spacingAndGlyphs" fill="#111" style="font-family:'Liberation Serif','Times New Roman',serif">Spheres</text>
<text x="470.00" y="119.60" font-size="13.4" font-weight="bold" textLength="55.00" lengthAdjust="spacingAndGlyphs" fill="#111" style="font-family:'Liberation Serif','Times New Roman',serif">Cylinders</text>
<text x="338.90" y="139.60" font-size="13.4" font-weight="bold" textLength="93.00" lengthAdjust="spacingAndGlyphs" fill="#111" style="font-family:'Liberation Serif','Times New Roman',serif">Sphere/Cylinder</text>
<text x="355.40" y="156.00" font-size="13.4" font-weight="bold" textLength="63.40" lengthAdjust="spacingAndGlyphs" fill="#111" style="font-family:'Liberation Serif','Times New Roman',serif">coexistence</text>
<text x="480.00" y="141.40" font-size="13.4" font-weight="bold" textLength="39.30" lengthAdjust="spacingAndGlyphs" fill="#111" style="font-family:'Liberation Serif','Times New Roman',serif">Vesicle</text>
</svg>
</body></html>
